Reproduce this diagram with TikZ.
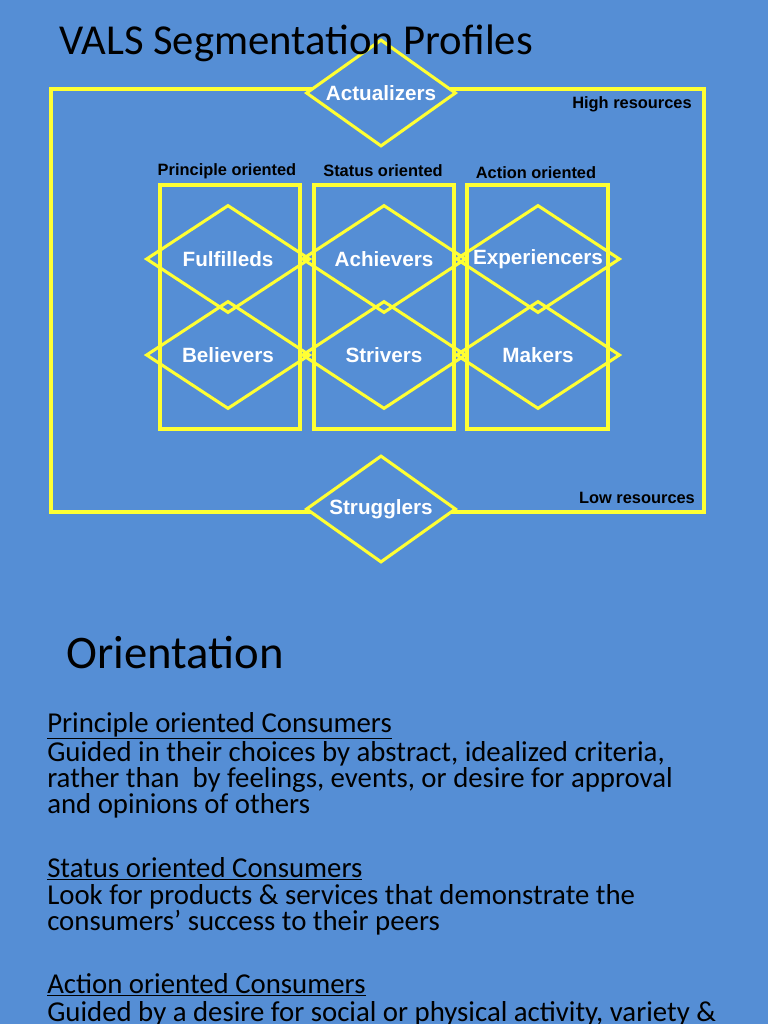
\documentclass[tikz,border=0pt]{standalone}
\usepackage{fontspec}
\setmainfont{Carlito}
\newfontfamily\arial{Liberation Sans}
\usetikzlibrary{shapes.geometric}
\definecolor{bg}{HTML}{558ED5}
\definecolor{ylw}{HTML}{FFFF33}
\begin{document}
\begin{tikzpicture}[x=0.75pt,y=-0.75pt,
  dia/.style={diamond,draw=ylw,line width=2.3pt,inner sep=0pt,minimum width=164*0.75pt,minimum height=108*0.75pt,
    label={[font=\arial\bfseries\fontsize{15.5}{17}\selectfont,text=white]center:#1}},
  box/.style={draw=ylw,line width=2.3pt},
  sm/.style={font=\arial\bfseries\fontsize{12.3}{14}\selectfont,text=black,inner sep=0pt},
  hd/.style={anchor=base west,inner sep=0pt,font=\fontsize{21.6}{24}\selectfont},
  bd/.style={anchor=north west,inner sep=0pt,align=left,font=\fontsize{21.6}{18.2}\selectfont}]
\fill[bg] (0,0) rectangle (768,1024);
\useasboundingbox (0,0) rectangle (768,1024);
\draw[box] (51,89) rectangle (704,512);
\draw[box] (160,185) rectangle (300,429);
\draw[box] (314,185) rectangle (454,429);
\draw[box] (467,185) rectangle (608,429);
\node[dia=Actualizers,minimum width=150*0.75pt,minimum height=107*0.75pt,fill=bg] (act) at (381,93) {};
\node[dia=Strugglers,minimum width=150*0.75pt,minimum height=107*0.75pt,fill=bg] (str) at (381,509) {};
\node[dia=Fulfilleds] (ful) at (228,259) {};
\node[dia=Believers] (bel) at (228,355) {};
\node[dia=Achievers] (ach) at (384,259) {};
\node[dia=Strivers] (sti) at (384,355) {};
\node[dia=Experiencers] (exp) at (538,259) {};
\node[dia=Makers] (mak) at (538,355) {};
\node[anchor=base west,inner sep=0pt,font=\fontsize{32}{34}\selectfont] (title) at (59,55) {VALS Segmentation Profiles};
\node[sm] (hr) at (632,104) {High resources};
\node[sm] (lr) at (637,498) {Low resources};
\node[sm] (po) at (227,171) {Principle oriented};
\node[sm] (so) at (383,171) {Status oriented};
\node[sm] (ao) at (536,173) {Action oriented};
\node[anchor=base west,inner sep=0pt,font=\fontsize{35}{37}\selectfont] (ori) at (66,668) {Orientation};
\node[hd] (h1) at (47,732) {\underline{Principle oriented Consumers}};
\node[bd] (b1) at (47,741) {Guided in their choices by abstract, idealized criteria,\\rather than\ \ by feelings, events, or desire for approval\\and opinions of others};
\node[hd] (h2) at (47,877) {\underline{Status oriented Consumers}};
\node[bd] (b2) at (47,884) {Look for products \& services that demonstrate the\\consumers’ success to their peers};
\node[hd] (h3) at (47,993) {\underline{Action oriented Consumers}};
\node[bd] (b3) at (47,1001) {Guided by a desire for social or physical activity, variety \&};
\end{tikzpicture}
\end{document}
